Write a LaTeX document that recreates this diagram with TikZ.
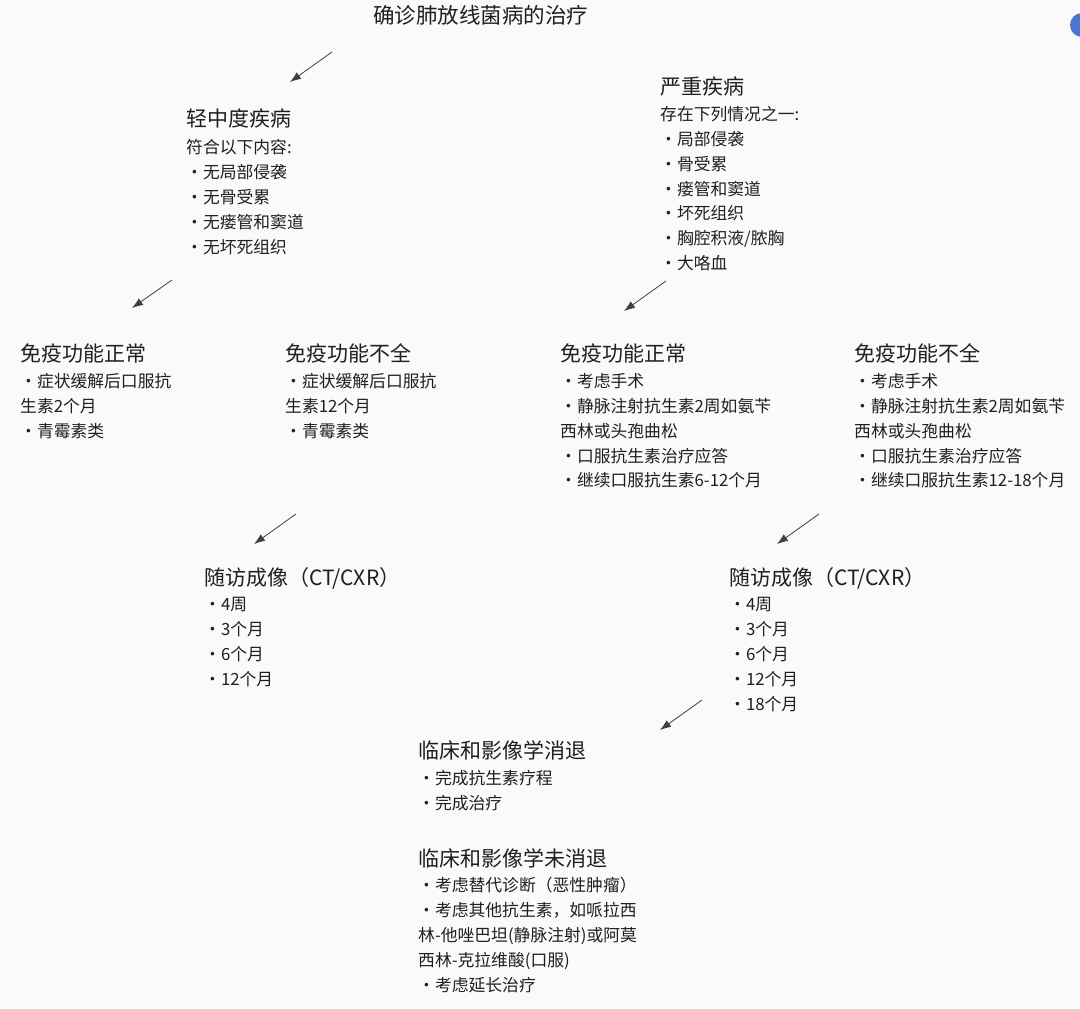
\documentclass[tikz,border=0pt]{standalone}
\usepackage{fontspec}
\setmainfont{Noto Sans CJK SC}
\begin{document}
\begin{tikzpicture}[x=1pt,y=-1pt,
  hd/.style={anchor=west,inner sep=0pt,font=\fontsize{21}{26}\selectfont,text=black!88},
  bd/.style={anchor=north west,inner sep=0pt,align=left,font=\fontsize{16.8}{24.9}\selectfont,text=black!88},
  arr/.style={draw=black!75,line width=0.8pt,-{Latex[length=11pt,width=8pt]}}]
\usetikzlibrary{arrows.meta}
\definecolor{dotblue}{HTML}{4A78D0}
\fill[black!2] (0,0) rectangle (1080,1009);
\useasboundingbox (0,0) rectangle (1080,1009);
\fill[dotblue] (1082,25) circle (12);
\node[hd,font=\fontsize{21.5}{26}\selectfont] (t) at (373,15) {确诊肺放线菌病的治疗};
\coordinate (a1s) at (332,52); \coordinate (a1e) at (290,82);
\draw[arr] (a1s) -- (a1e);
\node[hd] (m) at (186,118) {轻中度疾病};
\node[bd] (mb) at (186,139) {符合以下内容:\\・无局部侵袭\\・无骨受累\\・无瘘管和窦道\\・无坏死组织};
\node[hd] (s) at (660,86) {严重疾病};
\node[bd] (sb) at (660,106) {存在下列情况之一:\\・局部侵袭\\・骨受累\\・瘘管和窦道\\・坏死组织\\・胸腔积液/脓胸\\・大咯血};
\coordinate (a2s) at (172,280); \coordinate (a2e) at (132,308);
\draw[arr] (a2s) -- (a2e);
\coordinate (a3s) at (666,281); \coordinate (a3e) at (624,311);
\draw[arr] (a3s) -- (a3e);
\node[hd] (h1) at (20,353) {免疫功能正常};
\node[bd] (b1) at (20,373) {・症状缓解后口服抗\\生素2个月\\・青霉素类};
\node[hd] (h2) at (285,353) {免疫功能不全};
\node[bd] (b2) at (285,373) {・症状缓解后口服抗\\生素12个月\\・青霉素类};
\node[hd] (h3) at (560,353) {免疫功能正常};
\node[bd] (b3) at (560,373) {・考虑手术\\・静脉注射抗生素2周如氨苄\\西林或头孢曲松\\・口服抗生素治疗应答\\・继续口服抗生素6-12个月};
\node[hd] (h4) at (854,353) {免疫功能不全};
\node[bd] (b4) at (854,373) {・考虑手术\\・静脉注射抗生素2周如氨苄\\西林或头孢曲松\\・口服抗生素治疗应答\\・继续口服抗生素12-18个月};
\coordinate (a4s) at (296,514); \coordinate (a4e) at (254,544);
\draw[arr] (a4s) -- (a4e);
\coordinate (a5s) at (819,514); \coordinate (a5e) at (777,544);
\draw[arr] (a5s) -- (a5e);
\node[hd] (f1) at (204,578) {随访成像（CT/CXR）};
\node[bd] (fb1) at (204,597) {・4周\\・3个月\\・6个月\\・12个月};
\node[hd] (f2) at (729,578) {随访成像（CT/CXR）};
\node[bd] (fb2) at (729,597) {・4周\\・3个月\\・6个月\\・12个月\\・18个月};
\coordinate (a6s) at (702,700); \coordinate (a6e) at (660,730);
\draw[arr] (a6s) -- (a6e);
\node[hd] (r1) at (418,750) {临床和影像学消退};
\node[bd] (rb1) at (418,770) {・完成抗生素疗程\\・完成治疗};
\node[hd] (r2) at (418,858) {临床和影像学未消退};
\node[bd] (rb2) at (418,877) {・考虑替代诊断（恶性肿瘤）\\・考虑其他抗生素，如哌拉西\\林-他唑巴坦(静脉注射)或阿莫\\西林-克拉维酸(口服)\\・考虑延长治疗};
\end{tikzpicture}
\end{document}
